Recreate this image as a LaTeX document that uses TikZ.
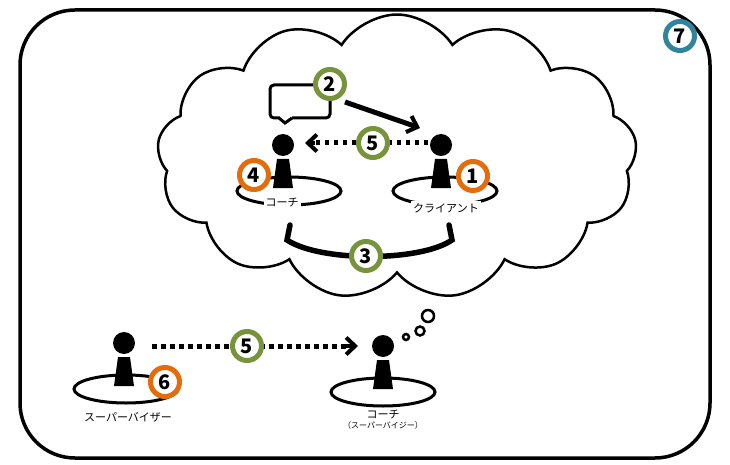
\documentclass[tikz,border=0pt]{standalone}
\usepackage{fontspec}
\setmainfont{Noto Sans CJK JP}
\usetikzlibrary{shapes.symbols,arrows.meta}
\definecolor{gr}{HTML}{77933C}
\definecolor{or}{HTML}{E46C0A}
\definecolor{bl}{HTML}{31849B}
\tikzset{
 badge/.style={circle,draw=#1,line width=5pt,fill=white,minimum size=29pt,inner sep=0pt,font=\fontsize{20}{20}\selectfont\bfseries},
 lbl/.style={fill=white,inner sep=2pt,font=\fontsize{11}{12}\selectfont},
 dots/.style={line width=5pt,dash pattern=on 4.5pt off 4.5pt},
 tip/.style={-{Straight Barb[length=9pt,width=17pt,line width=4pt]}},
}
\newcommand{\person}[3]{%
 \fill (#1,#2) circle (11);
 \fill (#1-6,#2+14) -- (#1+6,#2+14) -- (#1+10,#2+43) -- (#1-10,#2+43) -- cycle;
 \draw[line width=3pt] (#1+#3,#2+46) ellipse (52 and 14);
}
\begin{document}
\begin{tikzpicture}[x=1pt,y=-1pt]
\useasboundingbox (0,0) rectangle (730,465);
\draw[line width=3.5pt,rounded corners=55] (20,10) rectangle (710,458);
\node[cloud,cloud puffs=13,cloud puff arc=115,aspect=1.7,draw,line width=2.5pt,minimum width=480,minimum height=285] (cl) at (397,157) {};
% top scene
\person{283}{145}{6}
\person{441}{145}{4}
\node[lbl] (lc) at (282,203) {コーチ};
\node[lbl] (lk) at (446,208) {クライアント};
\node[badge=or] (b4) at (254,175) {4};
\node[badge=or] (b1) at (473,176) {1};
\draw[line width=3pt,rounded corners=4] (270,85) rectangle (330,118);
\fill[white] (280,116) rectangle (292,121);
\draw[line width=3pt] (279,118) -- (285,123) -- (292,118);
\node[badge=gr] (b2) at (330,84) {2};
\coordinate (a1) at (345,102); \coordinate (a2) at (420,128);
\draw[line width=5pt,tip] (a1) -- (a2);
\coordinate (d1) at (428,143); \coordinate (d2) at (305,143);
\draw[dots] (d1) -- (312,143);
\draw[line width=4pt,tip] (315,143) -- (d2);
\node[badge=gr] (b5) at (373,143) {5};
\draw[line width=5.5pt,line cap=round] (290,225) -- (287,240) .. controls (320,262) and (420,262) .. (452,240) -- (449,225);
\node[badge=gr] (b3) at (366,256) {3};
% bottom scene
\person{124}{343}{2}
\person{383}{346}{0}
\node[lbl] (ls) at (128,417) {スーパーバイザー};
\node[fill=white,inner sep=2pt,align=center,font=\fontsize{11}{12}\selectfont] (lcs) at (383,420) {コーチ\\[-2pt]{\fontsize{8}{9}\selectfont （スーパーバイジー）}};
\node[badge=or] (b6) at (165,382) {6};
\draw[dots] (152,346) -- (350,346);
\draw[line width=4pt,tip] (345,346) -- (358,346);
\node[badge=gr] (b5b) at (247,346) {5};
\draw[line width=2.5pt] (406,337) circle (3) (420,331) circle (4.5) (428,316) circle (6);
\node[badge=bl] (b7) at (680,36) {7};
\end{tikzpicture}
\end{document}
